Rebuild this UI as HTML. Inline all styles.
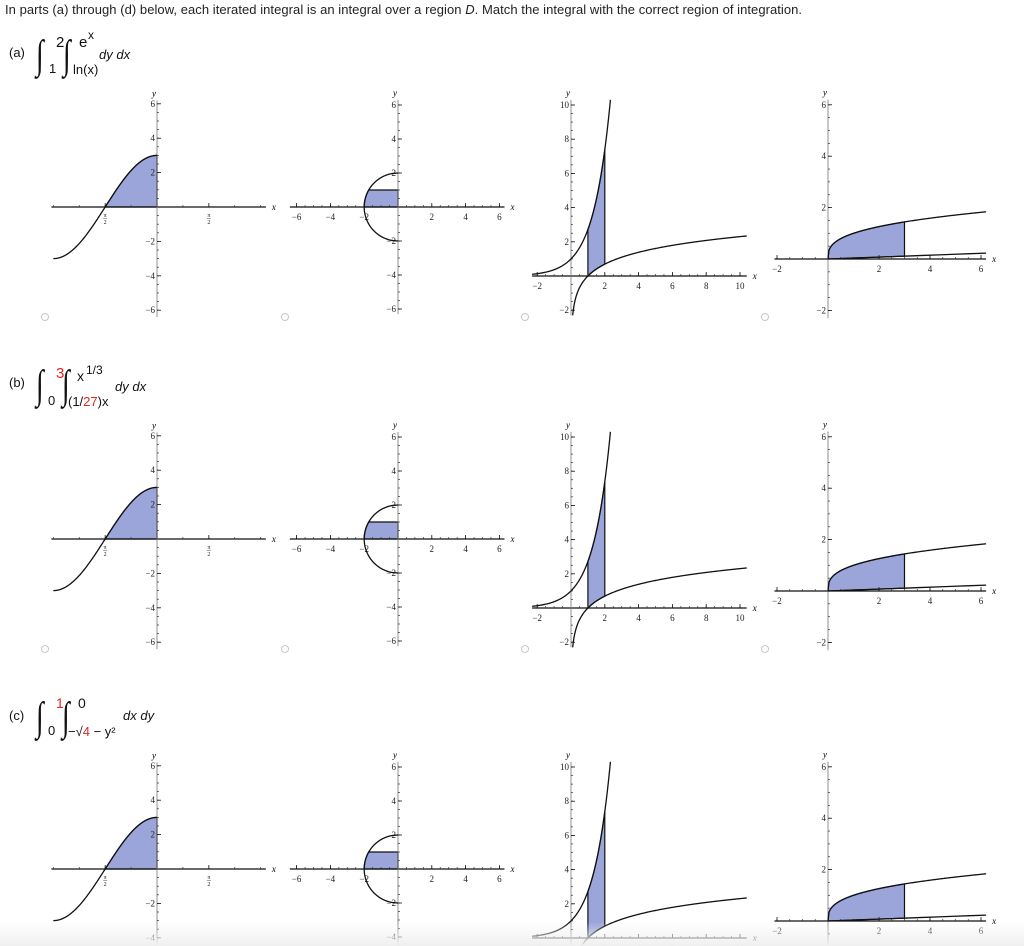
<!DOCTYPE html>
<html><head><meta charset="utf-8">
<style>
body{margin:0;background:#fff;width:1024px;height:946px;overflow:hidden;position:relative;font-family:"Liberation Sans",sans-serif;}
#title{position:absolute;left:5px;top:2px;font-size:13px;color:#222;letter-spacing:0.05px}
svg{position:absolute;left:0;top:0}
#shade{position:absolute;left:0;top:922px;width:1024px;height:24px;background:linear-gradient(#fff0,#f0f0f0)}
.ig{font-family:"Liberation Serif",serif;font-size:28px}
</style></head>
<body>
<div id="title">In parts (a) through (d) below, each iterated integral is an integral over a region <i>D</i>. Match the integral with the correct region of integration.</div>
<svg id="cv" width="1024" height="946">
<g font-family="Liberation Sans, sans-serif" fill="#111">
 <text x="9" y="57" font-size="13">(a)</text>
 <text class="ig" transform="translate(36,68) scale(1,1.45)">∫</text><text x="56" y="47" font-size="15">2</text><text x="49" y="73" font-size="13">1</text>
 <text class="ig" transform="translate(63,68) scale(1,1.45)">∫</text><text x="79" y="47" font-size="15">e</text><text x="88" y="39" font-size="12">x</text><text x="73" y="74" font-size="13">ln(x)</text>
 <text x="99" y="59" font-size="13" font-style="italic">dy dx</text>
</g>
<g font-family="Liberation Sans, sans-serif" fill="#111">
 <text x="9" y="387" font-size="13">(b)</text>
 <text class="ig" transform="translate(36,398) scale(1,1.45)">∫</text><text x="56" y="378" font-size="15" fill="#e0261e">3</text><text x="48" y="405" font-size="13">0</text>
 <text class="ig" transform="translate(62,398) scale(1,1.45)">∫</text><text x="77" y="381" font-size="14">x</text><text x="86" y="374" font-size="12">1/3</text>
 <text x="68" y="406" font-size="13">(1/<tspan fill="#e0261e">27</tspan>)x</text>
 <text x="115" y="391" font-size="13" font-style="italic">dy dx</text>
</g>
<g font-family="Liberation Sans, sans-serif" fill="#111">
 <text x="9" y="720" font-size="13">(c)</text>
 <text class="ig" transform="translate(36,730) scale(1,1.45)">∫</text><text x="56" y="708" font-size="14" fill="#e0261e">1</text><text x="48" y="735" font-size="13">0</text>
 <text class="ig" transform="translate(62,730) scale(1,1.45)">∫</text><text x="78" y="708" font-size="14">0</text>
 <text x="68" y="736" font-size="13">−√<tspan fill="#e0261e">4</tspan> − y²</text>
 <text x="123" y="720" font-size="13" font-style="italic">dx dy</text>
</g>
</svg>
<div id="shade"></div>
<script>
// row vertical offsets
const rowOffsets=[0,332,662];
const rowNames=['a','b','c'];
// plot 1: 3cos(x) over [-pi,0], shaded [-pi/2,0]
const p1Amp=[3];
const p1CurveRange=[-Math.PI,0];
const p1Shade=[-Math.PI/2,0];
const p1YTicks=[-6,-4,-2,2,4,6];
const p1XTicks=[-Math.PI/2,Math.PI/2];
// plot 2: left half circle radius 2, shaded y in [0,1]
const p2Radius=[2];
const p2ShadeY=[0,1];
const p2XTicks=[-6,-4,-2,2,4,6];
const p2YTicks=[-6,-4,-2,2,4,6];
// plot 3: e^x and ln x, shaded x in [1,2]
const p3Shade=[1,2];
const p3XTicks=[-2,2,4,6,8,10];
const p3YTicks=[-2,2,4,6,8,10];
// plot 4: x^(1/3) and x/27, shaded x in [0,3]
const p4Shade=[0,3];
const p4Slope=[1/27];
const p4XTicks=[-2,2,4,6];
const p4YTicks=[-2,2,4,6];

const NS='http://www.w3.org/2000/svg';
const cv=document.getElementById('cv');
function mk(tag,parent,attrs){const e=document.createElementNS(NS,tag);for(const k in attrs)e.setAttribute(k,attrs[k]);parent.appendChild(e);return e;}

function drawPlot(g,c){
  const X=v=>c.ox+v*c.sx, Y=v=>c.oy-v*c.sy;
  if(c.shade){const sp=mk('path',g,{d:c.shade(X,Y),fill:'#9ba5d9',stroke:'#111','stroke-width':1.2});
  
  }
  const ax=mk('line',g,{x1:X(c.xmin),x2:X(c.xmax),y1:c.oy,y2:c.oy,stroke:'#111','stroke-width':1.2});
  
  
  const ay=mk('line',g,{x1:c.ox,x2:c.ox,y1:Y(c.ymin),y2:Y(c.ymax),stroke:'#777','stroke-width':0.8});
  
  
  for(let v=Math.ceil(c.xmin/c.mx)*c.mx;v<=c.xmax;v+=c.mx){ if(Math.abs(v)<1e-9)continue;
    mk('line',g,{x1:X(v),x2:X(v),y1:c.oy,y2:c.oy-2,stroke:'#333','stroke-width':0.7});}
  for(let v=Math.ceil(c.ymin/c.my)*c.my;v<=c.ymax;v+=c.my){ if(Math.abs(v)<1e-9)continue;
    mk('line',g,{x1:c.ox,x2:c.ox+2,y1:Y(v),y2:Y(v),stroke:'#333','stroke-width':0.7});}
  c.xt.forEach((v,i)=>{
    mk('line',g,{x1:X(v),x2:X(v),y1:c.oy,y2:c.oy-4,stroke:'#111','stroke-width':0.8});
    if(c.xl){
      const t=mk('text',g,{x:X(v),y:c.oy+10,'font-size':6,'text-anchor':'middle','font-family':'Liberation Serif, serif',fill:'#222'});
      t.textContent=c.xl[i];
      
      
      mk('line',g,{x1:X(v)-2,x2:X(v)+2,y1:c.oy+11.5,y2:c.oy+11.5,stroke:'#444','stroke-width':0.5});
      const d=mk('text',g,{x:X(v),y:c.oy+17,'font-size':6,'text-anchor':'middle','font-family':'Liberation Serif, serif',fill:'#222'});
      d.textContent='2';
      
      
    } else {
      const t=mk('text',g,{x:X(v),y:c.oy+13,'font-size':9,'text-anchor':'middle','font-family':'Liberation Serif, serif',fill:'#222'});
      t.textContent=v<0?'−'+(-v):String(v);
      
      
    }
  });
  c.yt.forEach(v=>{
    mk('line',g,{x1:c.ox,x2:c.ox+4,y1:Y(v),y2:Y(v),stroke:'#111','stroke-width':0.8});
    const t=mk('text',g,{x:c.ox-2,y:Y(v)+3,'font-size':9,'text-anchor':'end','font-family':'Liberation Serif, serif',fill:'#222'});
    t.textContent=v<0?'−'+(-v):String(v);
    
    
  });
  const yl=mk('text',g,{x:c.ox-3,y:Y(c.ymax)-4,'font-size':9,'font-style':'italic','text-anchor':'middle','font-family':'Liberation Serif, serif'});
  yl.textContent='y';
  
  
  const xl=mk('text',g,{x:X(c.xmax)+6,y:c.oy+3,'font-size':9,'font-style':'italic','font-family':'Liberation Serif, serif'});
  xl.textContent='x';
  
  
  c.curves.forEach(cu=>{
    const p=mk('path',g,{d:cu(X,Y),fill:'none',stroke:'#111','stroke-width':1.3});
    
    
  });
}
function fpath(f,a,b,X,Y,n){n=n||120;let d='';for(let i=0;i<=n;i++){const x=a+(b-a)*i/n;d+=(i?'L':'M')+X(x).toFixed(2)+','+Y(f(x)).toFixed(2);}return d;}
function fpathY(g,a,b,X,Y,n){n=n||120;let d='';for(let i=0;i<=n;i++){const y=a+(b-a)*i/n;d+=(i?'L':'M')+X(g(y)).toFixed(2)+','+Y(y).toFixed(2);}return d;}

rowOffsets.forEach((off,r)=>{
  const row=mk('g',cv,{});
  
  
  const cos=x=>p1Amp[0]*Math.cos(x);
  const cfgs=[
   {ox:157,oy:207+off,sx:33,sy:17.2,xmin:-3.2,xmax:3.3,ymin:-6.4,ymax:6.2,mx:Math.PI/4,my:0.5,xt:p1XTicks,xl:['π','π'],yt:p1YTicks,
    shade:(X,Y)=>fpath(cos,p1Shade[0],p1Shade[1],X,Y,60)+'L'+X(p1Shade[1])+','+Y(0)+'Z',
    curves:[(X,Y)=>fpath(cos,p1CurveRange[0],p1CurveRange[1],X,Y)]},
   {ox:398,oy:207+off,sx:16.9,sy:17,xmin:-6.4,xmax:6.3,ymin:-6.3,ymax:6.3,mx:0.5,my:0.5,xt:p2XTicks,yt:p2YTicks,
    shade:(X,Y)=>{const R=p2Radius[0];return fpathY(y=>-Math.sqrt(R*R-y*y),p2ShadeY[0],p2ShadeY[1],X,Y,40)+'L'+X(0)+','+Y(p2ShadeY[1])+'L'+X(0)+','+Y(p2ShadeY[0])+'Z';},
    curves:[(X,Y)=>{const R=p2Radius[0];return fpathY(y=>-Math.sqrt(Math.max(0,R*R-y*y)),-R,R,X,Y,160);}]},
   {ox:571,oy:276+off,sx:16.9,sy:17.1,xmin:-2.3,xmax:10.4,ymin:-2.3,ymax:10.3,mx:0.5,my:0.5,xt:p3XTicks,yt:p3YTicks,
    shade:(X,Y)=>fpath(Math.exp,p3Shade[0],p3Shade[1],X,Y,40)+fpath(Math.log,p3Shade[1],p3Shade[0],X,Y,40).replace('M','L')+'Z',
    curves:[(X,Y)=>fpath(Math.exp,-2.3,Math.log(10.3),X,Y),(X,Y)=>fpath(Math.log,Math.exp(-2.3),10.4,X,Y,300)]},
   {ox:828,oy:259+off,sx:25.5,sy:25.7,xmin:-2.1,xmax:6.2,ymin:-2.3,ymax:6.2,mx:0.5,my:0.5,xt:p4XTicks,yt:p4YTicks,
    shade:(X,Y)=>fpath(Math.cbrt,p4Shade[0],p4Shade[1],X,Y,80)+fpath(x=>x*p4Slope[0],p4Shade[1],p4Shade[0],X,Y,10).replace('M','L')+'Z',
    curves:[(X,Y)=>fpath(Math.cbrt,0,6.2,X,Y,200),(X,Y)=>fpath(x=>x*p4Slope[0],0,6.2,X,Y,10)]}
  ];
  cfgs.forEach((c,i)=>{
    const g=mk('g',row,{});
    
    
    drawPlot(g,c);
    const rb=mk('circle',row,{cx:45+240*i,cy:317+off,r:3.5,fill:'#fff',stroke:'#c8c8c8','stroke-width':1});
    
    
  });
});
</script>
</body></html>
